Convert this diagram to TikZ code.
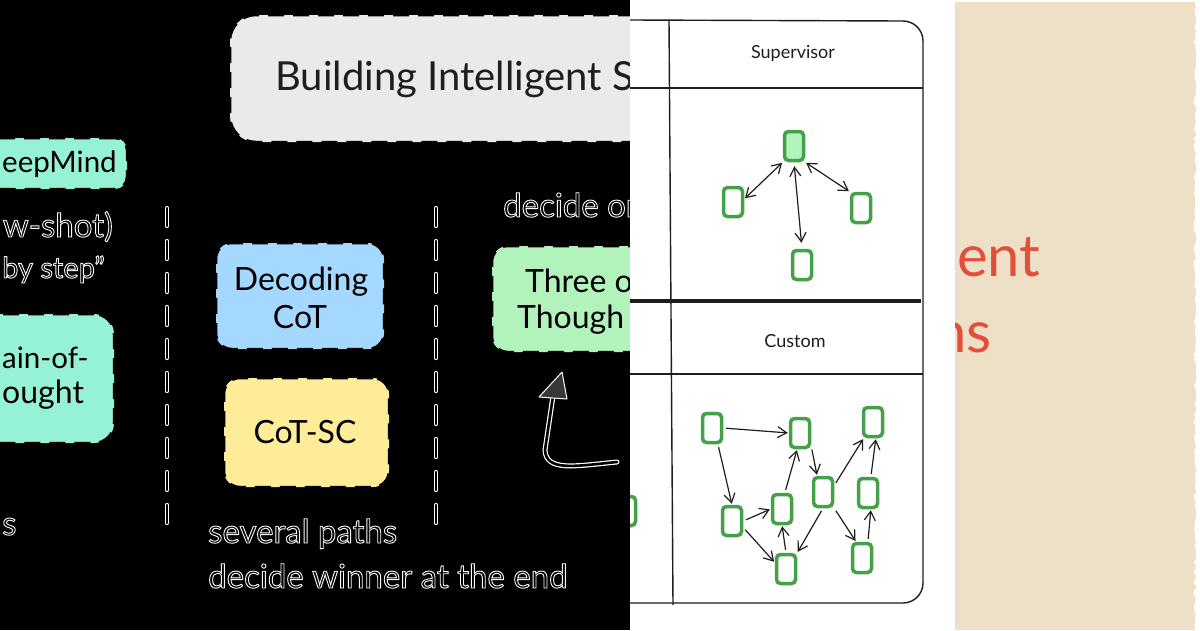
\documentclass[tikz,border=0pt]{standalone}
\usepackage{fontspec}
\setmainfont{Lato}
\usetikzlibrary{arrows.meta,decorations.pathmorphing}
\definecolor{ttl}{HTML}{E9EAEC}
\definecolor{cteal}{HTML}{96F2D7}
\definecolor{cblue}{HTML}{A5D8FF}
\definecolor{cyel}{HTML}{FFEC99}
\definecolor{cgrn}{HTML}{B2F2BB}
\definecolor{ink}{HTML}{1E1E1E}
\definecolor{ggreen}{HTML}{44A148}
\definecolor{beige}{HTML}{EEE0C6}
\definecolor{redink}{HTML}{E2503C}
\newcommand\olt[1]{\special{pdf:literal direct 1 Tr 0.9 w}#1\special{pdf:literal direct 0 Tr}}
\newcommand\myT{\fontsize{40}{48}\selectfont}
\newcommand\myL{\fontsize{32}{40}\selectfont}
\newcommand\myLs{\fontsize{29.5}{36}\selectfont}
\newcommand\myO{\fontsize{33}{40}\selectfont}
\newcommand\myOs{\fontsize{29}{36}\selectfont}
\newcommand\myS{\fontsize{18}{22}\selectfont}
\newcommand\myR{\fontsize{58}{66}\selectfont}
\tikzset{
  dbox/.style={draw=black, line width=2.5pt, dash pattern=on 16pt off 9pt, rounded corners=16pt, inner sep=0pt},
  lbl/.style={font=\myL, text=black, inner sep=0pt},
  otext/.style={font=\myO, text=white, inner sep=0pt},
  odash/.style={draw=white, double=black, line width=0.9pt, double distance=2.6pt, dash pattern=on 18pt off 15pt, line cap=round},
  gnode/.style={draw=ggreen, line width=3.5pt, rounded corners=4pt, minimum width=19pt, minimum height=29pt, inner sep=0pt, fill=white},
  garr/.style={draw=ink, line width=1.2pt, -{Straight Barb[length=9pt,width=11pt]}, shorten >=1pt, shorten <=3pt},
  gbi/.style={draw=ink, line width=1.2pt, {Straight Barb[length=9pt,width=11pt]}-{Straight Barb[length=9pt,width=11pt]}, shorten >=1pt, shorten <=1pt},
  tline/.style={draw=ink, line width=1.4pt},
  hlab/.style={font=\myS, text=ink, inner sep=0pt},
  rlab/.style={font=\myR, text=redink, inner sep=0pt}
}
\begin{document}
\begin{tikzpicture}[x=1pt,y=-1pt]
\useasboundingbox (0,0) rectangle (1200,630);
% ---------------- left panel ----------------
\begin{scope}
\clip (0,0) rectangle (630,630);
\fill[black] (0,0) rectangle (630,630);
\node[dbox, fill=ttl, rounded corners=26pt, minimum width=530pt, minimum height=127pt] (title) at (495,78.5) {};
\node[font=\myT, text=ink, inner sep=0pt, anchor=base west] (titletxt) at (275,90) {Building Intelligent S};
\node[dbox, fill=cteal, rounded corners=12pt, minimum width=187pt, minimum height=51pt] (dm) at (33.5,163.5) {};
\node[lbl, font=\myLs, anchor=base west] (dmtxt) at (2,172) {eepMind};
\node[otext, anchor=base east] (fs) at (113,237) {\olt{w-shot)}};
\node[otext, font=\myOs, anchor=base west] (sbs) at (2,278) {\olt{by step''}};
\node[dbox, fill=cteal, rounded corners=20pt, minimum width=174pt, minimum height=129pt] (cot) at (27,378.5) {};
\node[lbl, font=\myLs, anchor=base west] (cot1) at (2,368) {ain-of-};
\node[lbl, anchor=base west] (cot2) at (2,403) {ought};
\node[otext, anchor=base west] (ss) at (2,535) {\olt{s}};
\coordinate (d1a) at (167,208);
\coordinate (d1b) at (167,525);
\coordinate (d2a) at (436,208);
\coordinate (d2b) at (436,525);
\draw[odash] (d1a) -- (d1b);
\draw[odash] (d2a) -- (d2b);
\node[dbox, fill=cblue, minimum width=168pt, minimum height=106pt] (dec) at (300,296) {};
\node[lbl, anchor=base] (dec1) at (301,290) {Decoding};
\node[lbl, anchor=base] (dec2) at (300,328) {CoT};
\node[dbox, fill=cyel, minimum width=165pt, minimum height=109pt] (sc) at (306.5,432.5) {};
\node[lbl, anchor=base] (sctxt) at (305,443) {CoT-SC};
\node[otext, anchor=base west] (sev) at (208,543) {\olt{several paths}};
\node[otext, anchor=base west] (win) at (208,588) {\olt{decide winner at the end}};
\node[otext, anchor=base west] (don) at (503,217) {\olt{decide on}};
\node[dbox, fill=cgrn, minimum width=168pt, minimum height=106pt] (tot) at (576,299) {};
\node[lbl, anchor=base west] (tot1) at (525,292) {Three o};
\node[lbl, anchor=base west] (tot2) at (517,328) {Though};
\coordinate (ar0) at (617,462);
\coordinate (ar1) at (562,372);
\draw[white, line width=5pt, line cap=round] (ar0) .. controls (575,466) and (546,472) .. (545,450) -- (553,396);
\draw[black, line width=2.6pt, line cap=round] (ar0) .. controls (575,466) and (546,472) .. (545,450) -- (553,396);
\draw[draw=white, line width=1pt, fill=black!78, line join=round] (ar1) -- (539,397) -- (567,399) -- cycle;
\end{scope}
% ---------------- middle panel ----------------
\begin{scope}
\clip (630,0) rectangle (955,630);
\fill[white] (630,0) rectangle (955,630);
\draw[tline] (630,20) -- (903,21) arc[start angle=90, end angle=0, radius=20pt] -- (923,583) arc[start angle=0, end angle=-90, radius=20pt] -- (630,603);
\draw[tline] (630,88) -- (923,88);
\draw[tline] (630,374) -- (923,374);
\draw[draw=ink, line width=4pt] (630,301) -- (921,301);
\draw[tline] (669,20) -- (673,605);
\node[hlab, anchor=base] (sup) at (793,58) {Supervisor};
\node[hlab, anchor=base] (cus) at (795,347) {Custom};
% supervisor graph
\node[gnode, fill=cgrn] (s0) at (794,146) {};
\node[gnode] (s1) at (733,202) {};
\node[gnode] (s2) at (861,208) {};
\node[gnode] (s3) at (802,265) {};
\draw[gbi] (s0.south west) -- (s1.15);
\draw[gbi] (s0.south east) -- (s2.north west);
\draw[gbi, shorten <=4pt, shorten >=6pt] (s0.south) -- (s3.north);
% custom graph
\node[gnode] (cx) at (626,511) {};
\node[gnode] (c1) at (712,428) {};
\node[gnode] (c2) at (800,433) {};
\node[gnode] (c3) at (873,422) {};
\node[gnode] (c4) at (732,521) {};
\node[gnode] (c5) at (782,509) {};
\node[gnode] (c6) at (823,492) {};
\node[gnode] (c7) at (868,493) {};
\node[gnode] (c8) at (786,569) {};
\node[gnode] (c9) at (862,558) {};
\draw[garr] (c1.east) -- (c2.west);
\draw[garr] (c1.-70) -- (c4.north);
\draw[garr] (c4.east) -- (c5.west);
\draw[garr] (c4.-30) -- (c8.150);
\draw[garr] (c5.80) -- (c2.-100);
\draw[garr] (c8.north) -- (c5.south);
\draw[garr] (c2.-50) -- (c6.110);
\draw[garr] (c6.30) -- (c3.-120);
\draw[garr] (c6.south) -- (c8.north east);
\draw[garr] (c6.south east) -- (c9.110);
\draw[garr] (c9.70) -- (c7.-80);
\draw[garr] (c7.80) -- (c3.-80);
\end{scope}
% ---------------- right panel ----------------
\begin{scope}
\clip (955,0) rectangle (1200,630);
\fill[white] (955,0) rectangle (1200,630);
\pgfmathsetseed{7}
\fill[beige] (955,2) -- (1195,2) decorate[decoration={random steps,segment length=4pt,amplitude=1.5pt}]{-- (1195,630)} -- (955,630) -- cycle;
\node[rlab, anchor=base west] (r1) at (957,276) {ent};
\node[rlab, anchor=base east] (r2) at (992,352) {ns};
\end{scope}
\end{tikzpicture}
\end{document}
